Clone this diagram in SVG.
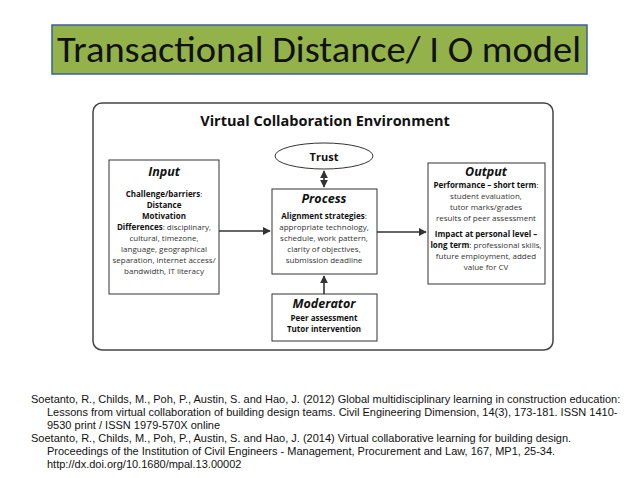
<svg xmlns="http://www.w3.org/2000/svg" width="638" height="478" viewBox="0 0 638 478">
<style>
.b{fill:#fff;stroke:#333;stroke-width:1}
.h{font-family:"Open Sans","Liberation Sans",sans-serif;font-style:italic;font-weight:bold;font-size:12.5px;fill:#111;text-anchor:middle}
.t{font-family:"Open Sans","Liberation Sans",sans-serif;font-size:8px;fill:#333;text-anchor:middle}
.tb{font-weight:bold;fill:#111}
.c{font-family:"Liberation Sans",Arial,sans-serif;font-size:11px;fill:#111}
.l{stroke:#333;stroke-width:1.6;fill:none}
</style>
<defs><marker id="a" viewBox="0 0 10 10" refX="9" refY="5" markerWidth="5" markerHeight="5" orient="auto-start-reverse"><path d="M0,0L10,5L0,10z" fill="#333"/></marker></defs>
<rect width="638" height="478" fill="#fff"/>
<g id="title"><rect x="52" y="25" width="535" height="49" fill="#93b34a" stroke="#3a5f9e" stroke-width="1.5"/>
<text x="319" y="62" text-anchor="middle" font-family="Carlito,'Open Sans','Liberation Sans',sans-serif" font-size="37" fill="#111" textLength="524" lengthAdjust="spacingAndGlyphs">Transactional Distance/ I O model</text></g>
<g id="env"><rect x="93" y="103" width="460" height="247" rx="9" fill="#fff" stroke="#444" stroke-width="1.5"/>
<text x="325" y="126" text-anchor="middle" font-family="'Open Sans','Liberation Sans',sans-serif" font-weight="bold" font-size="14.5" fill="#111">Virtual Collaboration Environment</text></g>
<g id="connectors">
<line class="l" x1="219" y1="231" x2="270" y2="231" marker-end="url(#a)"/>
<line class="l" x1="377" y1="232" x2="426" y2="232" marker-end="url(#a)"/>
<line class="l" x1="324" y1="171" x2="324" y2="187" marker-start="url(#a)" marker-end="url(#a)"/>
<line class="l" x1="324" y1="294" x2="324" y2="276" marker-end="url(#a)"/>
</g>
<g id="trust"><ellipse cx="324" cy="156" rx="49" ry="13" class="b"/><text x="324" y="161" text-anchor="middle" font-family="'Open Sans','Liberation Sans',sans-serif" font-weight="bold" font-size="11" fill="#111">Trust</text></g>
<g id="input"><rect x="109" y="160" width="110" height="134" class="b"/>
<text class="h" x="164" y="176">Input</text>
<text class="t" y="197"><tspan x="164"><tspan class="tb">Challenge/barriers</tspan>:</tspan><tspan x="164" dy="11" class="tb">Distance</tspan><tspan x="164" dy="11" class="tb">Motivation</tspan><tspan x="164" dy="11"><tspan class="tb">Differences</tspan>: disciplinary,</tspan><tspan x="164" dy="11">cultural, timezone,</tspan><tspan x="164" dy="11">language, geographical</tspan><tspan x="164" dy="11">separation, internet access/</tspan><tspan x="164" dy="11">bandwidth, IT literacy</tspan></text></g>
<g id="process"><rect x="272" y="189" width="105" height="85" class="b"/>
<text class="h" x="324" y="203">Process</text>
<text class="t" y="219"><tspan x="324"><tspan class="tb">Alignment strategies</tspan>:</tspan><tspan x="324" dy="11">appropriate technology,</tspan><tspan x="324" dy="11">schedule, work pattern,</tspan><tspan x="324" dy="11">clarity of objectives,</tspan><tspan x="324" dy="11">submission deadline</tspan></text></g>
<g id="moderator"><rect x="272" y="294" width="105" height="47" class="b"/>
<text class="h" x="324" y="308">Moderator</text>
<text class="t tb" y="321"><tspan x="324">Peer assessment</tspan><tspan x="324" dy="11">Tutor intervention</tspan></text></g>
<g id="output"><rect x="428" y="163" width="117" height="121" class="b"/>
<text class="h" x="486" y="176">Output</text>
<text class="t" y="188"><tspan x="486"><tspan class="tb">Performance – short term</tspan>:</tspan><tspan x="486" dy="11">student evaluation,</tspan><tspan x="486" dy="11">tutor marks/grades</tspan><tspan x="486" dy="11">results of peer assessment</tspan><tspan x="486" dy="16" class="tb">Impact at personal level –</tspan><tspan x="486" dy="11"><tspan class="tb">long term</tspan>: professional skills,</tspan><tspan x="486" dy="11">future employment, added</tspan><tspan x="486" dy="11">value for CV</tspan></text></g>
<g id="refs"><text class="c" y="403"><tspan x="31">Soetanto, R., Childs, M., Poh, P., Austin, S. and Hao, J. (2012) Global multidisciplinary learning in construction education:</tspan><tspan x="47" dy="13">Lessons from virtual collaboration of building design teams. Civil Engineering Dimension, 14(3), 173-181. ISSN 1410-</tspan><tspan x="47" dy="13">9530 print / ISSN 1979-570X online</tspan><tspan x="31" dy="13">Soetanto, R., Childs, M., Poh, P., Austin, S. and Hao, J. (2014) Virtual collaborative learning for building design.</tspan><tspan x="47" dy="13">Proceedings of the Institution of Civil Engineers - Management, Procurement and Law, 167, MP1, 25-34.</tspan><tspan x="47" dy="13">http://dx.doi.org/10.1680/mpal.13.00002</tspan></text></g>
</svg>
